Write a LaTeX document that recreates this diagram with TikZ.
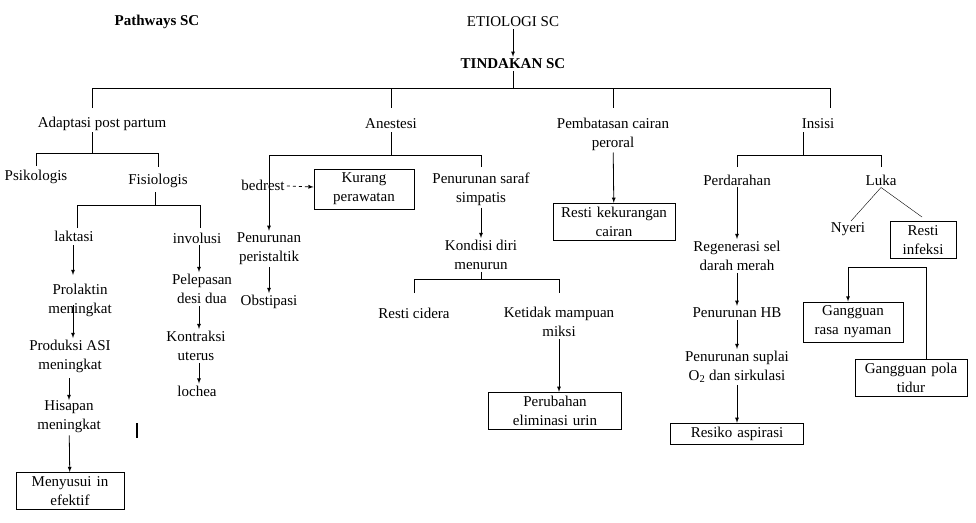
\documentclass[tikz,border=0pt]{standalone}
\usepackage{fontspec}
\setmainfont{Liberation Serif}
\begin{document}
\begin{tikzpicture}[x=1pt,y=-1pt,
  every node/.style={font=\fontsize{15}{19}\selectfont,align=center,inner sep=2pt},
  box/.style={draw,thick,inner sep=4pt},
  ln/.style={thick},
  ar/.style={thick,-latex}]
\useasboundingbox[fill=white] (0,0) rectangle (976,522);
\node[font=\fontsize{15}{19}\bfseries] (pw) at (157,22) {Pathways SC};
\node (eti) at (513,22) {ETIOLOGI SC};
\node[font=\fontsize{15}{19}\bfseries] (tin) at (513,64) {TINDAKAN SC};
\draw[ar] (eti) -- (tin);
\coordinate (c0) at (513,88);
\draw[ln] (tin.south) -- (c0);
\draw[ln] (92,108) -- (92,88) -- (830,88) -- (830,108);
\draw[ln] (391,88) -- (391,108) (613,88) -- (613,108);
\node (ada) at (102,124) {Adaptasi post partum};
\node (ane) at (391,124) {Anestesi};
\node (pem) at (613,134) {Pembatasan cairan\\peroral};
\node (ins) at (818,124) {Insisi};
% Adaptasi
\node (psi) at (36,177) {Psikologis};
\node (fis) at (158,181) {Fisiologis};
\draw[ln] (92,132) -- (92,153);
\draw[ln] (36,166) -- (36,153) -- (158,153) -- (158,167);
\draw[ln] (155,192) -- (155,205);
\draw[ln] (77,228) -- (77,205) -- (200,205) -- (200,228);
\node (lak) at (74,236) {laktasi};
\node (inv) at (197,238) {involusi};
\node (pro) at (80,300) {Prolaktin\\meningkat};
\node (prod) at (70,356) {Produksi ASI\\meningkat};
\node (his) at (69,417) {Hisapan\\meningkat};
\node[box,text width=100pt] (men) at (70,491) {Menyusui in\\efektif};
\draw[ar] (73,245) -- (73,275);
\draw[ar] (73,305) -- (73,338);
\draw[ar] (69,378) -- (69,400);
\draw[ar] (his) -- (men);
\draw[line width=1.5pt] (137,423) -- (137,438);
\node (pel) at (202,289) {Pelepasan\\desi dua};
\node (kon) at (196,346) {Kontraksi\\uterus};
\node (loc) at (197,391) {lochea};
\draw[ar] (inv.south -| 199,0) -- (pel.north -| 199,0);
\draw[ar] (pel.south -| 199,0) -- (kon.north -| 199,0);
\draw[ar] (kon.south -| 199,0) -- (loc.north -| 199,0);
% Anestesi
\draw[ln] (391,132) -- (391,155);
\draw[ln] (269,155) -- (481,155) -- (481,167);
\node (bed) at (263,185) {bedrest};
\node[box,text width=92pt] (kur) at (364,189) {Kurang\\perawatan};
\draw[ar,dashed] (bed) -- (kur);
\node (pper) at (269,249) {Penurunan\\peristaltik};
\node (obs) at (269,302) {Obstipasi};
\draw[ar] (269,155) -- (pper.north);
\draw[ar] (pper) -- (obs);
\node (pss) at (481,189) {Penurunan saraf\\simpatis};
\node (kdm) at (481,255) {Kondisi diri\\menurun};
\draw[ar] (pss) -- (kdm);
\draw[ln] (kdm.south) -- (481,279);
\draw[ln] (414,293) -- (414,279) -- (559,279) -- (559,293);
\node (rc) at (414,313) {Resti cidera};
\node (kmm) at (559,322) {Ketidak mampuan\\miksi};
\node[box,text width=125pt] (peu) at (555,411) {Perubahan\\eliminasi urin};
\draw[ar] (kmm.south -| 559,0) -- (peu.north -| 559,0);
% Pembatasan
\node[box,text width=114pt] (rkc) at (614,222) {Resti kekurangan\\cairan};
\draw[ar] (pem) -- (rkc);
% Insisi
\draw[ln] (803,132) -- (803,155);
\draw[ln] (737,167) -- (737,155) -- (881,155) -- (881,167);
\node (per) at (737,180) {Perdarahan};
\node (luk) at (881,180) {Luka};
\node (reg) at (737,256) {Regenerasi sel\\darah merah};
\node (hb) at (737,313) {Penurunan HB};
\node (sup) at (737,367) {Penurunan suplai\\O\textsubscript{2} dan sirkulasi};
\node[box,text width=125pt] (asp) at (737,434) {Resiko aspirasi};
\draw[ar] (per) -- (reg);
\draw[ar] (reg) -- (hb);
\draw[ar] (hb) -- (sup);
\draw[ar] (sup) -- (asp);
\node (nye) at (848,229) {Nyeri};
\node[box,text width=58pt] (rin) at (923,240) {Resti\\infeksi};
\draw[thin] (luk.south) -- (851,221);
\draw[thin] (luk.south) -- (922,217);
\node[box,text width=92pt] (grn) at (853,322) {Gangguan\\rasa nyaman};
\node[box,text width=104pt] (gpt) at (911,378) {Gangguan pola\\tidur};
\draw[ar] (gpt.north -| 926,0) -- (926,267) -- (848,267) -- (grn.north -| 848,0);
\end{tikzpicture}
\end{document}
